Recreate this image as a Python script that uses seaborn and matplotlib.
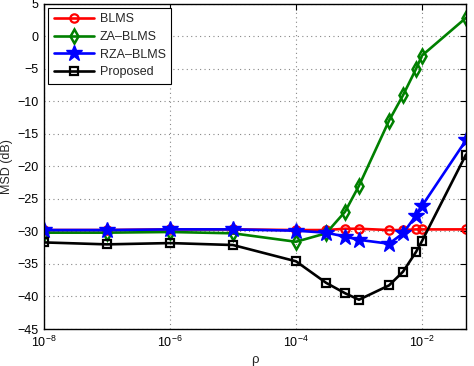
import numpy as np
import pandas as pd
import matplotlib
matplotlib.use("Agg")
import matplotlib.pyplot as plt
import seaborn as sns
from matplotlib.ticker import NullLocator, FixedLocator

# ---- data ----
rho = [1e-8, 1e-7, 1e-6, 1e-5, 1e-4, 3e-4, 6e-4, 1e-3, 3e-3, 5e-3, 8e-3, 1e-2, 5e-2]
blms = [-29.8, -29.8, -29.7, -29.7, -29.8, -29.8, -29.6, -29.6, -29.8, -29.8, -29.7, -29.7, -29.7]
za_blms = [-30.2, -30.2, -30.1, -30.3, -31.6, -30.3, -27.0, -23.0, -13.0, -9.1, -5.1, -3.0, 2.8]
rza_blms = [-29.8, -29.8, -29.7, -29.7, -29.9, -30.2, -30.8, -31.3, -31.9, -30.3, -27.6, -26.1, -16.0]
proposed = [-31.7, -32.0, -31.8, -32.1, -34.6, -37.9, -39.5, -40.5, -38.3, -36.2, -33.2, -31.5, -18.2]

series_names = ["BLMS", "ZA\u2013BLMS", "RZA\u2013BLMS", "Proposed"]

# optimal-rho markers (dashed verticals)
opt_rho = [1e-4, 1e-3, 3e-3]
opt_msd = [-31.6, -40.5, -31.9]
opt_colors = ["#008000", "black", "#0000ff"]

xticks = [1e-8, 1e-6, 1e-4, 1e-2]
yticks = list(range(-45, 6, 5))

# ---- style ----
sns.set_theme(style="white")
plt.rcParams["font.family"] = ["Liberation Sans", "DejaVu Sans"]
plt.rcParams["mathtext.fontset"] = "custom"
plt.rcParams["mathtext.rm"] = "Liberation Sans"
plt.rcParams["mathtext.it"] = "Liberation Sans:italic"
plt.rcParams["axes.unicode_minus"] = True

fig = plt.figure(figsize=(4.74, 3.66), dpi=100)
ax = fig.add_axes([44 / 474, (366 - 329) / 366, 422 / 474, 325.5 / 366])

styles = [
    dict(color="#ff0000", marker="o", markersize=6, markerfacecolor="none",
         markeredgecolor="#ff0000", markeredgewidth=1.6),
    dict(color="#008000", marker="d", markersize=7.5, markerfacecolor="none",
         markeredgecolor="#008000", markeredgewidth=1.8),
    dict(color="#0000ff", marker="*", markersize=12, markerfacecolor="#0000ff",
         markeredgecolor="#0000ff", markeredgewidth=1.0),
    dict(color="black", marker="s", markersize=5.5, markerfacecolor="none",
         markeredgecolor="black", markeredgewidth=1.6),
]

for name, vals, st in zip(series_names, [blms, za_blms, rza_blms, proposed], styles):
    df = pd.DataFrame({"rho": rho, "msd": vals})
    sns.lineplot(data=df, x="rho", y="msd", ax=ax, label=name, linewidth=1.9,
                 errorbar=None, sort=False, **st)

# dashed vertical lines down to bottom
for xv, yv, c in zip(opt_rho, opt_msd, opt_colors):
    dfv = pd.DataFrame({"rho": [xv, xv], "msd": [yv, -45]})
    sns.lineplot(data=dfv, x="rho", y="msd", ax=ax, color=c, linewidth=1.9,
                 linestyle=(0, (4, 2.5)), errorbar=None, sort=False, zorder=1.5)

ax.set_xscale("log")
ax.set_xlim(1e-8, 5e-2)
ax.set_ylim(-45, 5)
ax.xaxis.set_major_locator(FixedLocator(xticks))
ax.xaxis.set_minor_locator(NullLocator())
ax.set_yticks(yticks)

ax.grid(True, which="major", linestyle=(0, (1, 3)), color="#888888", linewidth=0.8)
ax.tick_params(direction="in", length=4, width=0.8, top=True, right=True,
               labelsize=9, colors="black", pad=4)
for sp in ax.spines.values():
    sp.set_color("black")
    sp.set_linewidth(1.0)

ax.set_xlabel("\u03c1", fontsize=9.5, labelpad=3)
ax.set_ylabel("MSD (dB)", fontsize=9, labelpad=3)

leg = ax.legend(loc="upper left", fontsize=9, frameon=True, fancybox=False,
                framealpha=1, edgecolor="black", handlelength=3.2,
                borderpad=0.45, labelspacing=0.45, handletextpad=0.45,
                borderaxespad=0.35)
leg.get_frame().set_linewidth(0.8)

fig.savefig("out.png", dpi=100)
